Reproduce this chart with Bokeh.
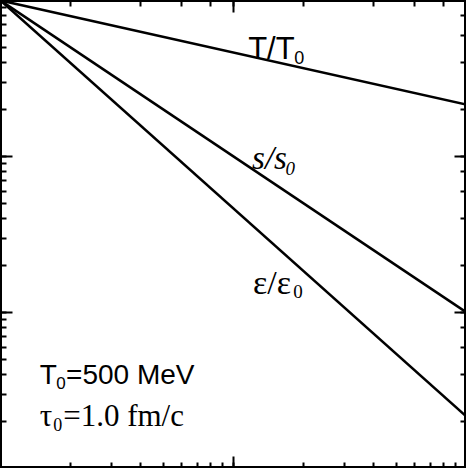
from bokeh.plotting import figure
from bokeh.models import LogAxis, Label
from bokeh.embed import file_html
from bokeh.resources import INLINE

# data: proper time tau (fm/c) and ratios read at line end points
tau = [1.0, 100.0]
T_ratio = [1.0, 0.215]
s_ratio = [1.0, 0.0100]
e_ratio = [1.0, 0.00215]

X_RANGE = (1.0, 100.0)
Y_RANGE = (1e-3, 1.0)

W, H = 466, 468
p = figure(width=W, height=H, x_axis_type="log", y_axis_type="log",
           x_range=X_RANGE, y_range=Y_RANGE, min_border=0,
           output_backend="svg", toolbar_location=None,
           background_fill_color="white", border_fill_color="white")
p.grid.visible = False
p.outline_line_color = "black"
p.outline_line_width = 3

p.add_layout(LogAxis(), "above")
p.add_layout(LogAxis(), "right")
for ax in p.axis:
    ax.major_label_text_font_size = "1px"
    ax.major_label_text_color = None
    ax.major_label_standoff = 0
    ax.major_tick_in = 12
    ax.major_tick_out = 0
    ax.minor_tick_in = 6
    ax.minor_tick_out = 0
    ax.major_tick_line_width = 2
    ax.minor_tick_line_width = 2
    ax.axis_line_color = None
    ax.major_tick_line_color = "black"
    ax.minor_tick_line_color = "black"

for yv in (T_ratio, s_ratio, e_ratio):
    p.line(tau, yv, line_color="black", line_width=2.6)

# convert reference-pixel estimates into data coordinates
def tx(px):
    return 10 ** ((px + 2) / 238.0)

def vy(py):
    return 10 ** (-(py + 1.5) / 159.5)

SANS = "Liberation Sans"
SERIF = "Liberation Serif"

def lab(px, py, text, font, size, style="normal"):
    p.add_layout(Label(x=tx(px), y=vy(py), text=text, text_font=font,
                       text_font_size=f"{size}px", text_font_style=style,
                       text_baseline="alphabetic", text_align="left",
                       text_color="black"))

lab(251, 48, "T/T", SANS, 31)
lab(298, 57, "0", SANS, 18)
lab(255, 160, "s/s", SERIF, 33, "italic")
lab(289, 170, "0", SERIF, 19, "italic")
lab(256, 287, "ε/ε", SERIF, 34)
lab(297, 296, "0", SERIF, 19)
lab(38, 381, "T", SANS, 28)
lab(55, 390, "0", SANS, 17)
lab(65, 381, "=500 MeV", SANS, 28)
lab(38, 423, "τ", SERIF, 31)
lab(52, 432, "0", SERIF, 18)
lab(62, 423, "=1.0 fm/c", SERIF, 31)

open("out.html", "w").write(file_html(p, INLINE))
